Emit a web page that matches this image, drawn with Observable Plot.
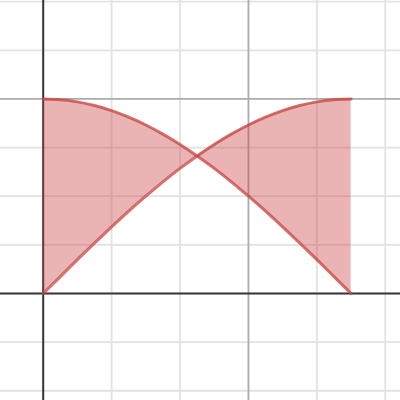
<!DOCTYPE html>
<html>
<head>
<meta charset="utf-8">
<script src="https://cdn.jsdelivr.net/npm/d3@7"></script>
<script src="https://cdn.jsdelivr.net/npm/@observablehq/plot@0.6"></script>
<style>
  html, body { margin: 0; padding: 0; background: #fff; }
  #chart svg { display: block; }
</style>
</head>
<body>
<div id="chart"></div>
<script>
const xs = [0, 0.0873, 0.1745, 0.2618, 0.3491, 0.4363, 0.5236, 0.6109, 0.6981, 0.7854,
            0.8727, 0.9599, 1.0472, 1.1345, 1.2217, 1.3090, 1.3963, 1.4835, 1.5708];
const sinValues = [0, 0.087, 0.174, 0.259, 0.342, 0.423, 0.5, 0.574, 0.643, 0.707,
                   0.766, 0.819, 0.866, 0.906, 0.940, 0.966, 0.985, 0.996, 1];
const cosValues = [1, 0.996, 0.985, 0.966, 0.940, 0.906, 0.866, 0.819, 0.766, 0.707,
                   0.643, 0.574, 0.5, 0.423, 0.342, 0.259, 0.174, 0.087, 0];

// Grid lines
const xGridMinor = [0.3491, 0.6981, 1.3963, 1.7453];
const xGridMajor = [1.0472];
const yGridMinor = [-0.5, -0.25, 0.25, 0.5, 0.75, 1.25, 1.5];
const yGridMajor = [1];
const xDomain = [-0.2179, 1.823];
const yDomain = [-0.550, 1.506];

const data = xs.map((x, i) => ({x, s: sinValues[i], c: cosValues[i]}));

const red = "#c74440";

const chart = Plot.plot({
  width: 400,
  height: 400,
  margin: 0,
  x: {domain: xDomain, axis: null},
  y: {domain: yDomain, axis: null},
  style: {background: "#fff"},
  marks: [
    Plot.ruleX(xGridMinor, {stroke: "#e2e2e2", strokeWidth: 1.8}),
    Plot.ruleY(yGridMinor, {stroke: "#e2e2e2", strokeWidth: 1.8}),
    Plot.ruleX(xGridMajor, {stroke: "#ababab", strokeWidth: 1.8}),
    Plot.ruleY(yGridMajor, {stroke: "#ababab", strokeWidth: 1.8}),
    Plot.ruleX([0], {stroke: "#333", strokeWidth: 2}),
    Plot.ruleY([0], {stroke: "#333", strokeWidth: 2}),
    Plot.areaY(data, {x: "x", y1: "s", y2: "c", fill: red, fillOpacity: 0.4, curve: "natural"}),
    Plot.line(data, {x: "x", y: "c", stroke: red, strokeOpacity: 0.75, strokeWidth: 3, curve: "natural"}),
    Plot.line(data, {x: "x", y: "s", stroke: red, strokeOpacity: 0.75, strokeWidth: 3, curve: "natural"})
  ]
});
document.getElementById("chart").append(chart);
</script>
</body>
</html>
